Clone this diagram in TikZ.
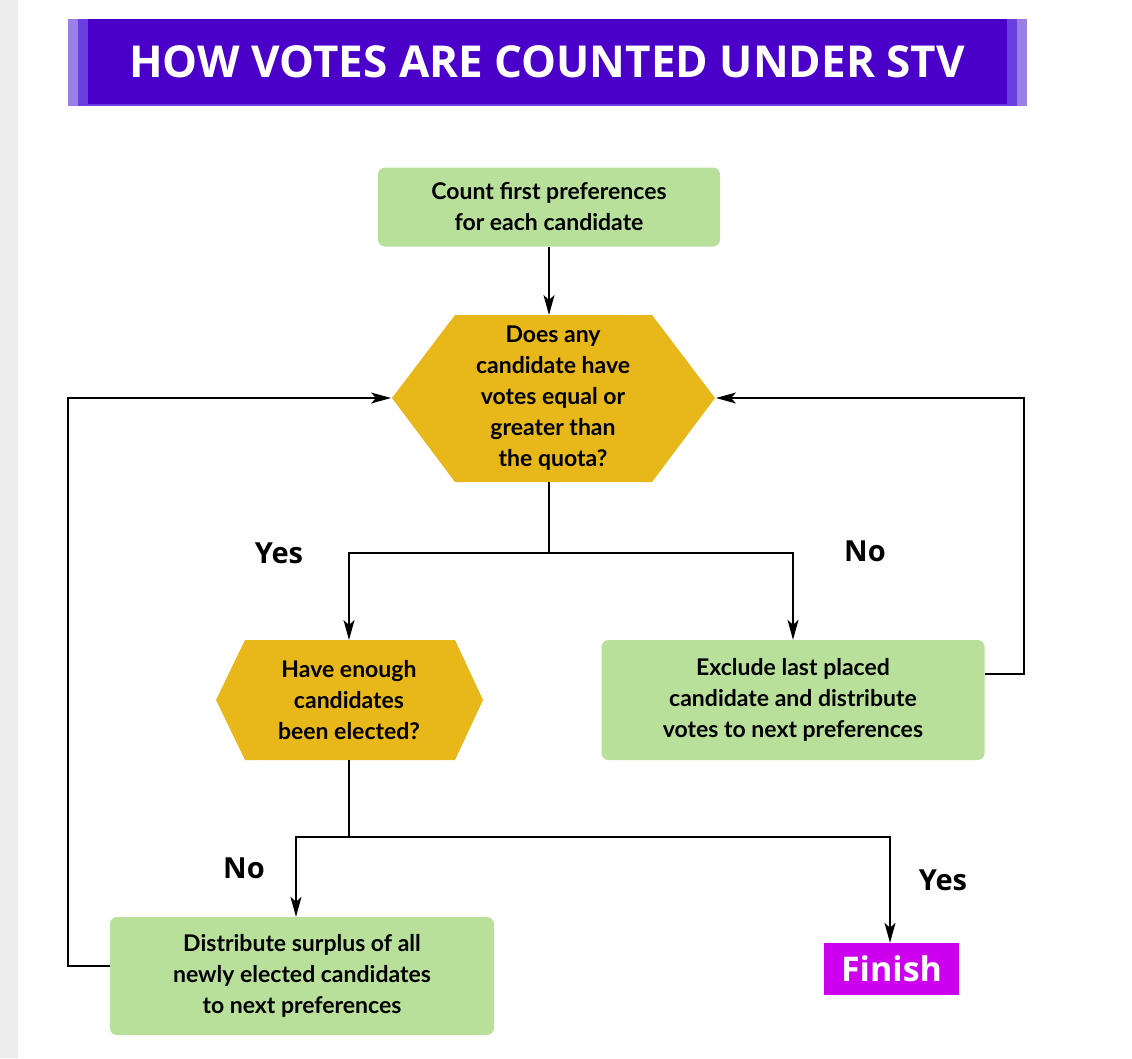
\documentclass[tikz,border=0pt]{standalone}
\usepackage{fontspec}
\setmainfont{Lato}
\newfontfamily\osans{Open Sans}
\usetikzlibrary{arrows.meta}
\definecolor{grn}{HTML}{B8E09A}
\definecolor{gold}{HTML}{E8B81A}
\definecolor{ttl}{HTML}{4A00C8}
\definecolor{ttlm}{HTML}{6B3FDD}
\definecolor{ttll}{HTML}{9A7FE8}
\definecolor{fin}{HTML}{CC00EE}
\begin{document}
\begin{tikzpicture}[x=1pt,y=-1pt,
  box/.style={fill=grn,rounded corners=7pt,inner sep=0pt,align=center,font=\fontsize{23}{31}\selectfont\bfseries},
  txt/.style={align=center,font=\fontsize{23}{31}\selectfont\bfseries},
  hex/.style={fill=gold},
  lbl/.style={font=\osans\fontsize{29}{32}\selectfont\bfseries},
  con/.style={line width=1.3pt},
  arr/.style={con,-{Stealth[length=20pt,width=11pt,inset=5pt]}}]
\useasboundingbox (0,0) rectangle (1132,1058);
\fill[white] (0,0) rectangle (1132,1058);
\fill[black!7] (0,0) rectangle (18,1058);
% title
\fill[ttll] (68,19) rectangle (1027,106);
\fill[ttlm] (78,19) rectangle (1017,106);
\fill[ttl] (88,19) rectangle (1007,104);
\node[text=white,font=\osans\fontsize{44}{48}\selectfont\bfseries] (title) at (547,62) {HOW VOTES ARE COUNTED UNDER STV};
% nodes
\node[box,minimum width=342pt,minimum height=79pt] (count) at (549,207) {Count first preferences\\for each candidate};
\fill[hex] (392,398) -- (455,315) -- (652,315) -- (715,398) -- (652,482) -- (455,482) -- cycle;
\node[txt] (q) at (553,398) {Does any\\candidate have\\votes equal or\\greater than\\the quota?};
\coordinate (qT) at (549,315); \coordinate (qB) at (549,482);
\coordinate (qL) at (391,398); \coordinate (qR) at (716,398);
\fill[hex] (216,700) -- (245,640) -- (455,640) -- (483,700) -- (455,760) -- (245,760) -- cycle;
\node[txt] (e) at (349,700) {Have enough\\candidates\\been elected?};
\coordinate (eT) at (349,640); \coordinate (eB) at (349,760);
\node[box,minimum width=383pt,minimum height=120pt] (x) at (793,700) {Exclude last placed\\candidate and distribute\\votes to next preferences};
\node[box,minimum width=384pt,minimum height=118pt] (d) at (302,976) {Distribute surplus of all\\newly elected candidates\\to next preferences};
\node[fill=fin,text=white,minimum width=135pt,minimum height=52pt,inner sep=0pt,font=\osans\fontsize{34}{36}\selectfont\bfseries] (f) at (891.5,969) {Finish};
% labels
\node[lbl] (l1) at (279,553) {Yes};
\node[lbl] (l2) at (865,551) {No};
\node[lbl] (l3) at (244,868) {No};
\node[lbl] (l4) at (943,880) {Yes};
% connectors
\draw[arr] (count.south) -- (qT);
\draw[con] (qB) -- (549,553);
\draw[arr] (549,553) -| (eT);
\draw[arr] (549,553) -| (x.north);
\draw[con] (eB) -- (349,837);
\draw[arr] (349,837) -| (d.north -| 296,0);
\draw[arr] (349,837) -| (f.north -| 890,0);
\draw[arr] (x.east |- 0,674) -- (1024,674) |- (qR);
\draw[arr] (d.west |- 0,966) -- (68,966) |- (qL);
\end{tikzpicture}
\end{document}
